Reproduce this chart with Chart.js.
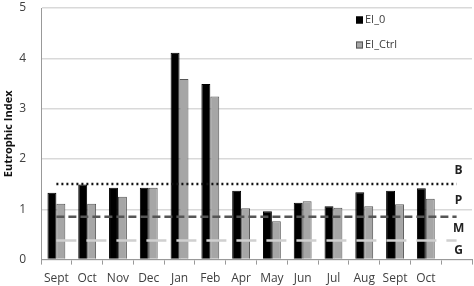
<!DOCTYPE html>
<html>
<head>
<meta charset="utf-8">
<script src="https://cdn.jsdelivr.net/npm/chart.js@4.4.1/dist/chart.umd.min.js"></script>
<style>
  html, body { margin: 0; padding: 0; background: #fff; }
  #wrap { width: 474px; height: 286px; }
</style>
</head>
<body>
<div id="wrap"><canvas id="chart"></canvas></div>
<script>
const months = ['Sept', 'Oct', 'Nov', 'Dec', 'Jan', 'Feb', 'Apr', 'May', 'Jun', 'Jul', 'Aug', 'Sept', 'Oct', ''];
const ei0 = [1.33, 1.49, 1.43, 1.43, 4.11, 3.49, 1.37, 0.96, 1.13, 1.06, 1.34, 1.37, 1.42, null];
const eiCtrl = [1.11, 1.11, 1.25, 1.43, 3.59, 3.24, 1.02, 0.76, 1.16, 1.03, 1.06, 1.10, 1.21, null];
// class boundaries (Bad / Poor / Moderate / Good)
const boundaryBP = 1.5;
const boundaryPM = 0.85;
const boundaryMG = 0.38;
const classLabels = ['B', 'P', 'M', 'G'];
const classLabelValues = [1.76, 1.17, 0.62, 0.18];

const textColor = '#404040';
const font = "'Open Sans', sans-serif";

const flat = v => months.map(() => v);

const boundaryLine = (value, color, dash, width) => ({
    type: 'line',
    data: flat(value),
    borderColor: color,
    borderWidth: width,
    borderDash: dash,
    pointRadius: 0,
    fill: false,
    order: 0,
});

const sideLabels = {
    id: 'sideLabels',
    afterDatasetsDraw(chart) {
        const { ctx, scales: { x, y } } = chart;
        ctx.save();
        ctx.font = `bold 12px ${font}`;
        ctx.fillStyle = '#222';
        ctx.textAlign = 'center';
        ctx.textBaseline = 'middle';
        const cx = x.getPixelForValue(months.length - 1) + 2;
        classLabels.forEach((t, i) => ctx.fillText(t, cx, y.getPixelForValue(classLabelValues[i])));

        // legend inside the plot
        const items = [
            { text: 'EI_0', fill: '#000', stroke: '#000' },
            { text: 'EI_Ctrl', fill: '#a6a6a6', stroke: '#555' },
        ];
        ctx.font = `11px ${font}`;
        ctx.textAlign = 'left';
        items.forEach((it, i) => {
            const ty = 20 + i * 25;
            ctx.fillStyle = it.fill;
            ctx.fillRect(356, ty - 3.5, 7, 7);
            ctx.strokeStyle = it.stroke;
            ctx.lineWidth = 1;
            ctx.strokeRect(356.5, ty - 3, 6, 6);
            ctx.fillStyle = textColor;
            ctx.fillText(it.text, 365, ty);
        });
        ctx.restore();
    },
};

new Chart(document.getElementById('chart'), {
    type: 'bar',
    data: {
        labels: months,
        datasets: [
            {
                label: 'EI_0',
                data: ei0,
                backgroundColor: '#000',
                borderColor: '#000',
                borderWidth: 1,
                categoryPercentage: 0.58,
                barPercentage: 1.0,
                order: 1,
            },
            {
                label: 'EI_Ctrl',
                data: eiCtrl,
                backgroundColor: '#a6a6a6',
                borderColor: '#555',
                borderWidth: 1,
                categoryPercentage: 0.58,
                barPercentage: 1.0,
                order: 1,
            },
            boundaryLine(boundaryBP, '#111', [2, 3], 2.5),
            boundaryLine(boundaryPM, '#555', [8, 4], 2.5),
            boundaryLine(boundaryMG, '#d0d0d0', [20, 10], 2.5),
        ],
    },
    options: {
        responsive: true,
        maintainAspectRatio: false,
        animation: false,
        layout: { padding: { top: 0, right: 2, left: 0, bottom: -7 } },
        scales: {
            x: {
                offset: true,
                grid: { offset: true, drawOnChartArea: false, color: '#999', tickLength: 5 },
                border: { color: '#999' },
                ticks: { color: textColor, font: { family: font, size: 12 }, maxRotation: 0, autoSkip: false, padding: 7 },
            },
            y: {
                min: 0,
                max: 5,
                ticks: { stepSize: 1, color: textColor, font: { family: font, size: 12 }, padding: 15 },
                grid: { color: '#d9d9d9', lineWidth: 1.5, drawTicks: false },
                border: { color: '#999' },
                title: {
                    display: true,
                    text: 'Eutrophic Index',
                    color: '#111',
                    font: { family: font, size: 11, weight: 'bold' },
                    padding: { top: 2, bottom: 2 },
                },
                afterFit(scale) {
                    scale.width = 41;
                    scale.paddingTop = 8;
                    scale.paddingBottom = 0;
                },
            },
        },
        plugins: {
            legend: { display: false },
            tooltip: { enabled: false },
        },
    },
    plugins: [sideLabels],
});
</script>
</body>
</html>
